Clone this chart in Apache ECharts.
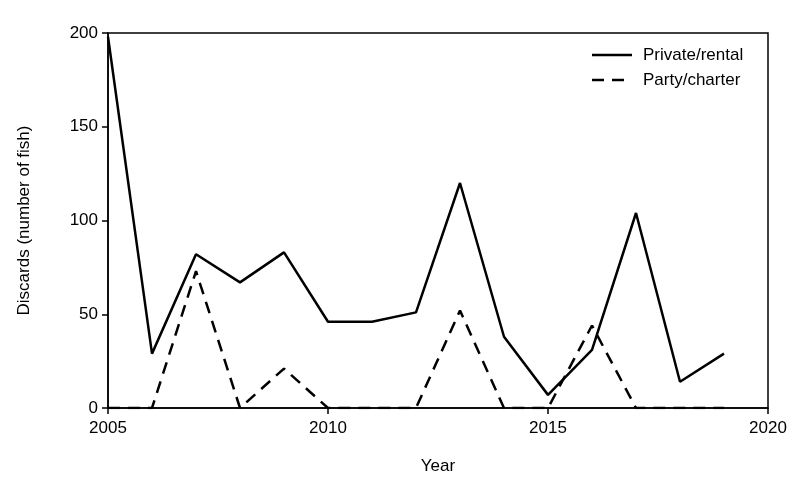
<!DOCTYPE html>
<html><head><meta charset="utf-8">
<script src="https://cdn.jsdelivr.net/npm/echarts@6/dist/echarts.min.js"></script>
<style>html,body{margin:0;padding:0;background:#fff}#c{width:800px;height:480px}</style>
</head><body><div id="c"></div>
<script>
const years=[2005,2006,2007,2008,2009,2010,2011,2012,2013,2014,2015,2016,2017,2018,2019];
const privateRental=[198,29,82,67,83,46,46,51,120,38,7,31,104,14,29];
const partyCharter=[0,0,73,0,21,0,0,0,52,0,0,44,0,0,0];
const legendNames=['Private/rental','Party/charter'];
const font='Arial, Liberation Sans, sans-serif';
const chart=echarts.init(document.getElementById('c'));
const ax={axisLine:{lineStyle:{color:'#000',width:1.5}},axisTick:{inside:false,length:6,lineStyle:{color:'#000',width:1.5}},axisLabel:{color:'#000',fontSize:17,fontFamily:font,margin:10},splitLine:{show:false},nameTextStyle:{color:'#000',fontSize:17,fontFamily:font}};
chart.setOption({
 animation:false,
 grid:{left:108,right:32,top:33,bottom:62,show:true,borderColor:'#000',borderWidth:1.5},
 graphic:[
  {type:'line',shape:{x1:592,y1:55,x2:632,y2:55},style:{stroke:'#000',lineWidth:2.5}},
  {type:'line',shape:{x1:592,y1:80,x2:632,y2:80},style:{stroke:'#000',lineWidth:2.5,lineDash:[12,8]}},
  {type:'text',x:643,y:55,style:{text:legendNames[0],fill:'#000',fontSize:17,fontFamily:font,verticalAlign:'middle'}},
  {type:'text',x:643,y:80,style:{text:legendNames[1],fill:'#000',fontSize:17,fontFamily:font,verticalAlign:'middle'}}
 ],
 xAxis:Object.assign({type:'value',min:2005,max:2020,interval:5,name:'Year',nameLocation:'middle',nameGap:50},ax,{axisLabel:Object.assign({},ax.axisLabel,{margin:12,formatter:v=>String(v)})}),
 yAxis:Object.assign({type:'value',min:0,max:200,interval:50,name:'Discards (number of fish)',nameLocation:'middle',nameGap:75},ax),
 series:[
  {name:legendNames[0],type:'line',data:years.map((y,i)=>[y,privateRental[i]]),symbol:'none',lineStyle:{color:'#000',width:2.5}},
  {name:legendNames[1],type:'line',data:years.map((y,i)=>[y,partyCharter[i]]),symbol:'none',lineStyle:{color:'#000',width:2.5,type:[12,8]}}
 ]
});
</script></body></html>
